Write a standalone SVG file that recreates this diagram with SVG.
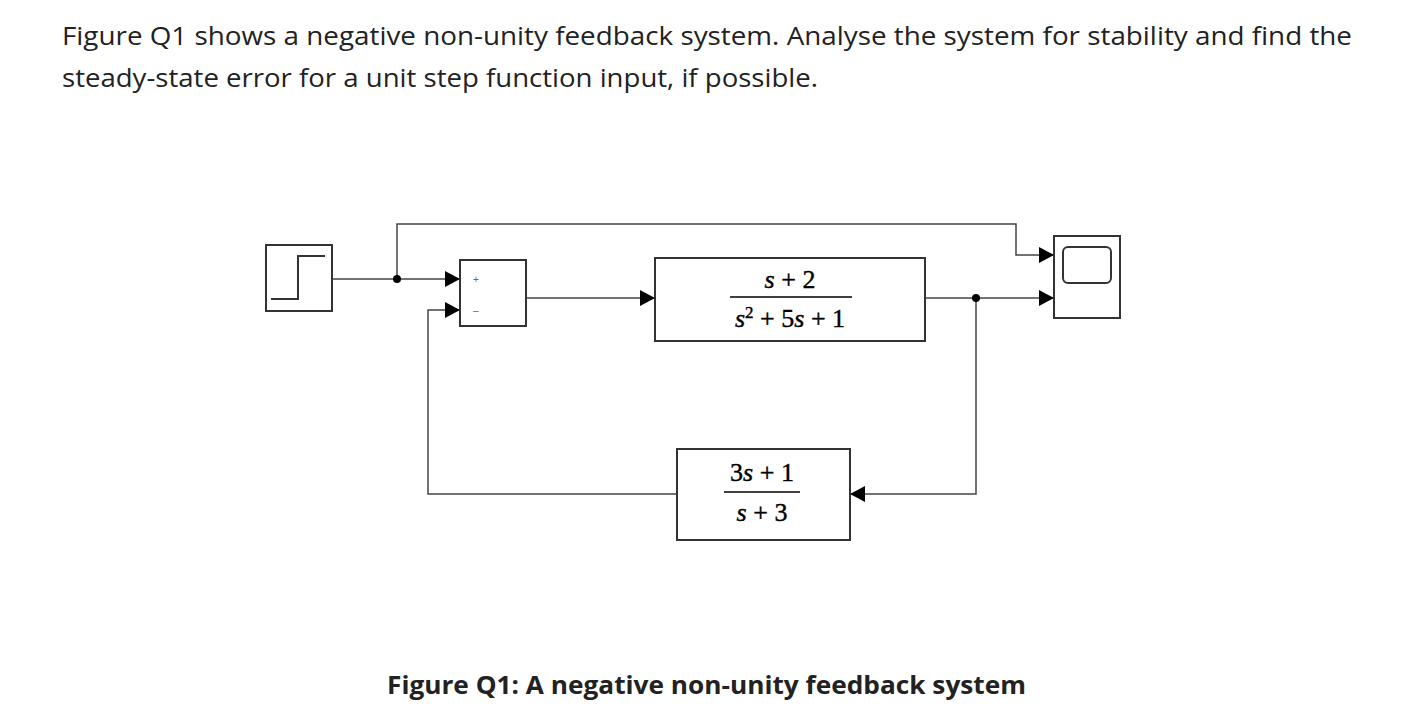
<svg xmlns="http://www.w3.org/2000/svg" width="1427" height="724" viewBox="0 0 1427 724">
<style>
.t{font-family:"Open Sans","Liberation Sans",sans-serif;font-size:25px;fill:#222}
.m{font-family:"Liberation Serif",serif;font-size:26px;fill:#000;stroke:#000;stroke-width:0.4}
.b{fill:#fff;stroke:#333;stroke-width:2}
.w{fill:none;stroke:#444;stroke-width:1.5}
</style>
<defs><marker id="a" markerWidth="16" markerHeight="16" refX="15" refY="8" orient="auto" markerUnits="userSpaceOnUse"><path d="M0,0 L15,8 L0,16 z" fill="#000"/></marker></defs>
<rect width="1427" height="724" fill="#fff"/>
<text class="t" x="62" y="45" textLength="1290" lengthAdjust="spacingAndGlyphs">Figure Q1 shows a negative non-unity feedback system.  Analyse the system for stability and find the</text>
<text class="t" x="62" y="87" textLength="756" lengthAdjust="spacingAndGlyphs">steady-state error for a unit step function input, if possible.</text>
<text class="t" x="387" y="694" textLength="639" lengthAdjust="spacingAndGlyphs" font-weight="bold">Figure Q1: A negative non-unity feedback system</text>
<g id="connectors">
<polyline class="w" points="332,279 460,279" marker-end="url(#a)"/>
<polyline class="w" points="397,279 397,224 1016,224 1016,255 1054,255" marker-end="url(#a)"/>
<polyline class="w" points="526,298 655,298" marker-end="url(#a)"/>
<polyline class="w" points="925,298 1054,298" marker-end="url(#a)"/>
<polyline class="w" points="976,298 976,494 850,494" marker-end="url(#a)"/>
<polyline class="w" points="677,494 428,494 428,310 460,310" marker-end="url(#a)"/>
<circle cx="397" cy="279" r="4" fill="#000"/>
<circle cx="976" cy="298" r="4" fill="#000"/>
</g>
<g id="step"><rect class="b" x="266" y="245" width="66" height="66"/><polyline points="271,299 298,299 298,256 325,256" fill="none" stroke="#333" stroke-width="2"/></g>
<g id="sum"><rect class="b" x="460" y="260" width="66" height="66"/><text x="473" y="283" font-family="Liberation Sans,sans-serif" font-size="10" fill="#666">+</text><text x="473" y="314" font-family="Liberation Sans,sans-serif" font-size="10" fill="#666">–</text></g>
<g id="plant"><rect class="b" x="655" y="258" width="270" height="83"/>
<text class="m" x="790" y="288" text-anchor="middle"><tspan font-style="italic">s</tspan> + 2</text>
<line x1="730" y1="297" x2="852" y2="297" stroke="#000" stroke-width="1.5"/>
<text class="m" x="790" y="327" text-anchor="middle"><tspan font-style="italic">s</tspan><tspan dy="-9" font-size="17">2</tspan><tspan dy="9"> + 5</tspan><tspan font-style="italic">s</tspan> + 1</text></g>
<g id="feedback"><rect class="b" x="677" y="449" width="173" height="91"/>
<text class="m" x="762" y="481" text-anchor="middle">3<tspan font-style="italic">s</tspan> + 1</text>
<line x1="724" y1="492" x2="800" y2="492" stroke="#000" stroke-width="1.5"/>
<text class="m" x="762" y="521" text-anchor="middle"><tspan font-style="italic">s</tspan> + 3</text></g>
<g id="scope"><rect class="b" x="1054" y="236" width="66" height="82"/><rect x="1063" y="247" width="48" height="36" rx="5" fill="none" stroke="#333" stroke-width="2"/></g>
</svg>
